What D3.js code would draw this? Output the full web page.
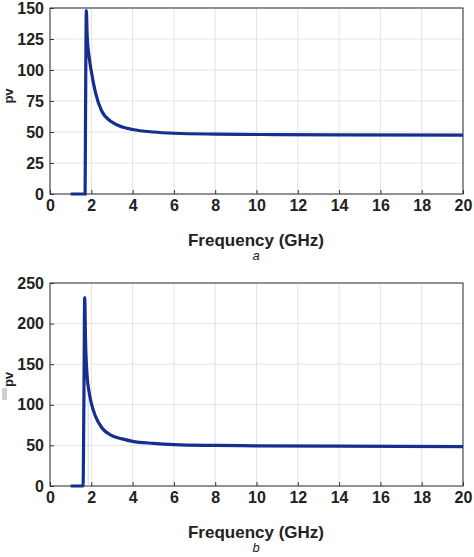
<!DOCTYPE html>
<html><head><meta charset="utf-8">
<script src="https://cdn.jsdelivr.net/npm/d3@7"></script>
<style>body{margin:0;background:#fff}text{font-family:Arial,"Liberation Sans",sans-serif}</style>
</head><body><svg id="c" width="474" height="557"></svg>
<script>
const freqA = [1.0, 1.7, 1.72, 1.76, 1.8, 1.9, 2.0, 2.2, 2.5, 3.0, 3.5, 4.0, 5.0, 6.0, 8.0, 10.0, 14.0, 20.0];
const valA  = [0, 0, 60, 148, 128, 110, 99, 82, 67, 58, 54, 52, 50, 49, 48.3, 48, 47.7, 47.5];
const freqB = [1.0, 1.6, 1.64, 1.68, 1.72, 1.8, 1.9, 2.0, 2.2, 2.5, 3.0, 3.5, 4.0, 5.0, 6.0, 8.0, 10.0, 14.0, 20.0];
const valB  = [0, 0, 100, 232, 180, 135, 115, 102, 86, 72, 62, 58, 55, 52.5, 51, 50, 49.5, 49, 48.5];
const xTicks = [0, 2, 4, 6, 8, 10, 12, 14, 16, 18, 20];
const yTicksA = [0, 25, 50, 75, 100, 125, 150];
const yTicksB = [0, 50, 100, 150, 200, 250];

const svg = d3.select("#c");

function panel(top, bottom, yMax, yTicks, fx, fy, letter, extra) {
  const x = d3.scaleLinear().domain([0, 20]).range([50, 463]);
  const y = d3.scaleLinear().domain([0, yMax]).range([bottom, top]);
  const g = svg.append("g");
  g.selectAll(".gx").data(xTicks).enter().append("line")
    .attr("x1", d => x(d)).attr("x2", d => x(d)).attr("y1", top).attr("y2", bottom)
    .style("stroke", "#e3e3e3");
  g.selectAll(".gy").data(yTicks).enter().append("line")
    .attr("x1", 50).attr("x2", 463).attr("y1", d => y(d)).attr("y2", d => y(d))
    .style("stroke", "#e3e3e3");
  g.append("rect").attr("x", 50).attr("y", top).attr("width", 413).attr("height", bottom - top)
    .style("fill", "none").style("stroke", "#333");
  const ax = g.append("g").attr("transform", `translate(0,${bottom})`)
    .call(d3.axisBottom(x).tickValues(xTicks).tickSize(-4).tickPadding(6));
  const ay = g.append("g").attr("transform", "translate(50,0)")
    .call(d3.axisLeft(y).tickValues(yTicks).tickSize(-4).tickPadding(6));
  [ax, ay].forEach(a => {
    a.select(".domain").remove();
    a.selectAll("line").style("stroke", "#333");
    a.selectAll("text").style("font-size", "16px").style("font-weight", "bold").style("fill", "#222");
  });
  if (extra) {
    g.append("line").attr("x1", x(extra)).attr("x2", x(extra)).attr("y1", y(0)).attr("y2", y(yMax * 0.5))
      .style("stroke", "#c5d6f2").style("stroke-width", 1);
  }
  g.append("path").datum(fx.map((f, i) => [f, fy[i]]))
    .attr("d", d3.line().x(d => x(d[0])).y(d => y(d[1])).curve(d3.curveMonotoneX))
    .style("fill", "none").style("stroke", "#162e8e").style("stroke-width", 3.2);
  g.append("text").attr("x", 256).attr("y", bottom + 52).attr("text-anchor", "middle")
    .style("font-size", "17px").style("font-weight", "bold").style("fill", "#222").text("Frequency (GHz)");
  g.append("text").attr("x", 256).attr("y", bottom + 66).attr("text-anchor", "middle")
    .style("font-size", "13px").style("font-style", "italic").style("fill", "#222").text(letter);
  const mid = (top + bottom) / 2;
  g.append("text").attr("transform", `translate(13,${mid - 5}) rotate(-90)`).attr("text-anchor", "middle")
    .style("font-size", "13px").style("font-weight", "bold").style("fill", "#222").text("pv");
  return g;
}

panel(8, 194, 150, yTicksA, freqA, valA, "a", null);
const gb = panel(283, 486, 250, yTicksB, freqB, valB, "b", 1.85);
gb.append("rect").attr("x", 2).attr("y", 388).attr("width", 5).attr("height", 12).style("fill", "#cfcfcf");
</script></body></html>
